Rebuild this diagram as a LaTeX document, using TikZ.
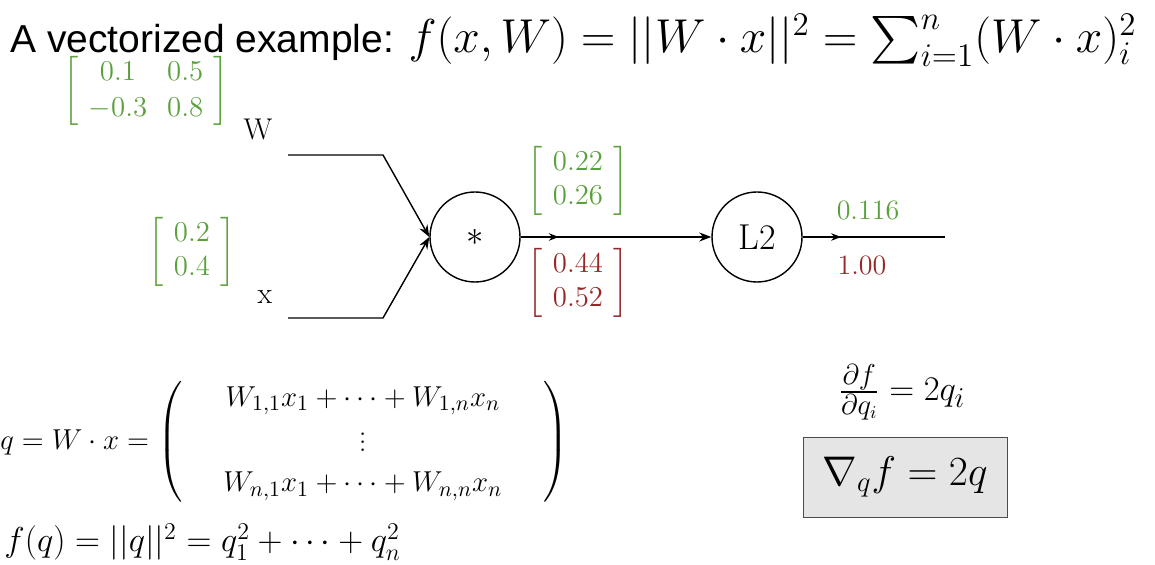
\documentclass[tikz,border=0pt]{standalone}
\usepackage{amsmath}
\usepackage{graphicx}
\usepackage{fontspec}
\newfontfamily\arial{Liberation Sans}
\usetikzlibrary{arrows.meta,decorations.markings}
\definecolor{gr}{RGB}{90,160,60}
\definecolor{rd}{RGB}{150,40,40}
\tikzset{
  gate/.style={draw,circle,minimum size=45pt,inner sep=0pt,line width=0.7pt},
  wire/.style={line width=0.7pt},
  midarrow/.style={postaction={decorate},decoration={markings,mark=at position #1 with {\arrow{Stealth[length=5pt]}}}},
  val/.style={text=gr,font=\fontsize{14}{17}\selectfont},
  grad/.style={text=rd,font=\fontsize{14}{17}\selectfont},
}
\begin{document}
\begin{tikzpicture}[x=0.5pt,y=-0.5pt]
\useasboundingbox (0,0) rectangle (1155,565);
\node[anchor=west,inner sep=0pt] (title) at (10,40) {\arial\fontsize{19.5}{20}\selectfont A vectorized example: \fontsize{22.5}{23}\selectfont\resizebox{364pt}{!}{$f(x,W)=||W\cdot x||^2=\sum_{i=1}^n (W\cdot x)_i^2$}};
\node[val,font=\fontsize{15}{18}\selectfont] (Wm) at (146,91) {$\left[\begin{array}{cc}0.1&0.5\\-0.3&0.8\end{array}\right]$};
\node[font=\fontsize{15}{17}\selectfont] (Wl) at (258,130) {W};
\node[val] (xm) at (192,252) {$\left[\begin{array}{c}0.2\\0.4\end{array}\right]$};
\node[font=\fontsize{15}{17}\selectfont] (xl) at (265,297) {x};
\node[gate] (mul) at (475,237) {\fontsize{16}{18}\selectfont$*$};
\node[gate] (l2) at (757,237) {\fontsize{18}{20}\selectfont L2};
\coordinate (ws) at (288,155); \coordinate (wb) at (383,155);
\coordinate (xs) at (288,318); \coordinate (xb) at (383,318);
\coordinate (out) at (945,237);
\draw[wire,-{Stealth[length=6pt]}] (ws) -- (wb) -- (mul.west);
\draw[wire,-{Stealth[length=6pt]}] (xs) -- (xb) -- (mul.west);
\draw[wire,midarrow=0.2,-{Stealth[length=6pt]}] (mul) -- (l2);
\draw[wire,midarrow=0.27] (l2) -- (out);
\node[val] (qv) at (578,181) {$\left[\begin{array}{c}0.22\\0.26\end{array}\right]$};
\node[grad] (qg) at (578,283) {$\left[\begin{array}{c}0.44\\0.52\end{array}\right]$};
\node[val] (fv) at (868,210) {0.116};
\node[grad] (fg) at (862,265) {1.00};
\node[anchor=west,inner sep=0pt,font=\fontsize{15.5}{18}\selectfont] (qeq) at (0,442) {$q=W\cdot x=\left(\begin{array}{c}\quad W_{1,1}x_1+\cdots+W_{1,n}x_n\quad\\[2pt] \vdots\\[2pt] \quad W_{n,1}x_1+\cdots+W_{n,n}x_n\quad\end{array}\right)$};
\node[anchor=west,inner sep=0pt,font=\fontsize{17}{19}\selectfont] (feq) at (4,542) {$f(q)=||q||^2=q_1^2+\cdots+q_n^2$};
\node[font=\fontsize{19}{21}\selectfont] (df) at (902,392) {$\frac{\partial f}{\partial q_i}=2q_i$};
\node[draw=black!70,fill=black!10,minimum width=102pt,minimum height=40pt,font=\fontsize{20}{22}\selectfont] (box) at (905,477) {$\nabla_q f=2q$};
\end{tikzpicture}
\end{document}
